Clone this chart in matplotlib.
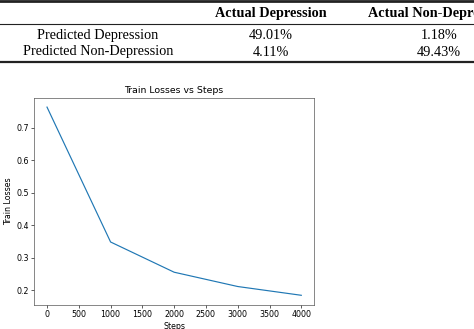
import matplotlib
matplotlib.use("Agg")
import matplotlib.pyplot as plt
from matplotlib.lines import Line2D

# Table data
col_headers = ["Actual Depression", "Actual Non-Depression"]
row_labels = ["Predicted Depression", "Predicted Non-Depression"]
cell_values = [["49.01%", "1.18%"], ["4.11%", "49.43%"]]

# Plot data
steps = [0, 1000, 2000, 3000, 4000]
train_losses = [0.764, 0.349, 0.256, 0.212, 0.185]

W, H = 474, 329
fig = plt.figure(figsize=(W / 100, H / 100), dpi=100)

def fx(px):
    return px / W

def fy(py):
    return 1 - py / H

serif = ["Liberation Serif", "DejaVu Serif"]
tfs = 10.3

# Table rules
for y, lw in [(1.0, 2.0), (24.0, 0.8), (62.3, 1.6)]:
    fig.add_artist(Line2D([0, 1], [fy(y), fy(y)], color="#222222", lw=lw,
                          transform=fig.transFigure))

fig.text(fx(271), fy(13), col_headers[0], ha="center", va="center",
         fontsize=tfs, fontweight="bold", family=serif)
fig.text(fx(367.7), fy(13), col_headers[1], ha="left", va="center",
         fontsize=tfs, fontweight="bold", family=serif)

row_y = [35.5, 52]
for i, lab in enumerate(row_labels):
    fig.text(fx(97.8), fy(row_y[i]), lab, ha="center", va="center",
             fontsize=tfs, family=serif)
    fig.text(fx(271), fy(row_y[i]), cell_values[i][0], ha="center",
             va="center", fontsize=tfs, family=serif)
    fig.text(fx(439), fy(row_y[i]), cell_values[i][1], ha="center",
             va="center", fontsize=tfs, family=serif)

# Plot
s = 0.565
ax = fig.add_axes([34.3 / W, (H - 304.7) / H, 279.7 / W, 207 / H])
ax.plot(steps, train_losses, color="#1f77b4", lw=1.5 * s)
ax.set_title("Train Losses vs Steps", fontsize=12 * s, pad=6 * s)
ax.set_xlabel("Steps", fontsize=10 * s, labelpad=4 * s)
ax.set_ylabel("Train Losses", fontsize=10 * s, labelpad=4 * s)
ax.set_xticks([0, 500, 1000, 1500, 2000, 2500, 3000, 3500, 4000])
ax.set_yticks([0.2, 0.3, 0.4, 0.5, 0.6, 0.7])
ax.tick_params(labelsize=10 * s, length=3.5 * s, width=0.8 * s, pad=3.5 * s)
for sp in ax.spines.values():
    sp.set_linewidth(0.8 * s)
    sp.set_color("#444444")

fig.savefig("out.png", dpi=100)
